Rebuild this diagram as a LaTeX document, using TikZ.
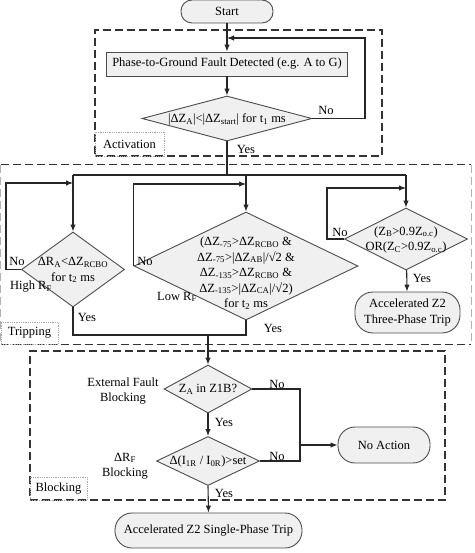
\documentclass[tikz,border=0pt]{standalone}
\usepackage{fontspec}
\setmainfont{Liberation Serif}
\usetikzlibrary{arrows.meta,shapes.geometric}
\newcommand\sbs[1]{\textsubscript{#1}}
\newcommand\dtext[2][-0.3em]{\smash{\makebox[0pt]{\raisebox{#1}{\begin{tabular}{@{}c@{}}#2\end{tabular}}}}}
\begin{document}
\begin{tikzpicture}[x=1pt,y=-1pt,
  font=\fontsize{12.5}{15.5}\selectfont,
  line/.style={draw=black!85, line width=1.1pt},
  arr/.style={line, -{Latex[length=7pt,width=5.5pt]}},
  box/.style={draw=black!70, fill=black!6, line width=0.9pt, inner sep=0pt},
  dia/.style={box, diamond, inner sep=0pt},
  pill/.style={box, rounded corners=16pt},
  group/.style={draw=black!80, dash pattern=on 8pt off 4pt, line width=1.2pt, inner sep=0pt},
  tagbox/.style={draw=black!35, densely dotted, line width=0.8pt, inner sep=0pt},
  lbl/.style={inner sep=0pt, align=center}
]
\useasboundingbox (0,0) rectangle (474,553);

% group frames
\node[group, minimum width=287pt, minimum height=126pt] (act) at (238.5,93) {};
\node[draw=none, inner sep=0pt, minimum width=470pt, minimum height=179pt] (trip) at (236,254.5) {};
\draw[group] (trip.north west) -- (trip.north east);
\draw[group] (trip.south west) -- (trip.south east);
\draw[group, draw=black!30] (trip.north west) -- (trip.south west);
\draw[group, draw=black!30] (trip.north east) -- (trip.south east);
\node[group, minimum width=415pt, minimum height=149pt] (blk) at (237.5,425.5) {};

\node[tagbox, minimum width=69pt, minimum height=24pt] (acttag) at (129.5,144) {Activation};
\node[tagbox, minimum width=57pt, minimum height=22pt] (triptag) at (29.5,333) {Tripping};
\node[tagbox, minimum width=57pt, minimum height=23pt] (blktag) at (58.5,488.5) {Blocking};

% nodes
\node[pill, rounded corners=11pt, minimum width=92pt, minimum height=23pt] (start) at (227,11.5) {Start};
\node[box, minimum width=241pt, minimum height=24pt] (pg) at (227,64) {Phase-to-Ground Fault Detected (e.g. A to G)};
\node[dia, minimum width=170pt, minimum height=45pt] (d1) at (227,118.5)
  {\dtext{|ΔZ\sbs{A}|<|ΔZ\sbs{start}| for t\sbs{1} ms}};
\node[dia, minimum width=103pt, minimum height=75pt] (d2) at (73,269.5)
  {\dtext{ΔR\sbs{A}<ΔZ\sbs{RCBO}\\for t\sbs{2} ms}};
\node[dia, minimum width=224pt, minimum height=108pt] (d3) at (246,266)
  {\dtext[-10.5pt]{(ΔZ\sbs{-75}>ΔZ\sbs{RCBO} \&\\ΔZ\sbs{-75}>|ΔZ\sbs{AB}|/√2 \&\\ΔZ\sbs{-135}>ΔZ\sbs{RCBO} \&\\ΔZ\sbs{-135}>|ΔZ\sbs{CA}|/√2)\\for t\sbs{2} ms}};
\node[dia, minimum width=123pt, minimum height=62pt] (d4) at (406,239)
  {\dtext{(Z\sbs{B}>0.9Z\sbs{o.c})\\OR(Z\sbs{C}>0.9Z\sbs{o.c})}};
\node[pill, rounded corners=18pt, minimum width=105pt, minimum height=41pt, align=center] (tp3) at (407.5,312.5)
  {Accelerated Z2\\Three-Phase Trip};
\node[dia, minimum width=88pt, minimum height=48pt] (d5) at (208,389)
  {\dtext{Z\sbs{A} in Z1B?}};
\node[dia, minimum width=103pt, minimum height=49pt] (d6) at (208,461)
  {\dtext{Δ(I\sbs{1R} / I\sbs{0R})>set}};
\node[pill, rounded corners=17pt, minimum width=92pt, minimum height=36pt] (noact) at (384,445) {No Action};
\node[pill, rounded corners=17pt, minimum width=187pt, minimum height=35pt] (final) at (208.5,530.5)
  {Accelerated Z2 Single-Phase Trip};

% coordinates
\coordinate (l1) at (227,38);
\coordinate (k1) at (365,38);
\coordinate (j1) at (227,175);
\coordinate (j2) at (73,175);
\coordinate (j3) at (246,175);
\coordinate (j4) at (406,175);
\coordinate (k2) at (6,183);
\coordinate (l2) at (73,183);
\coordinate (l3) at (246,184);
\coordinate (k4) at (327,188);
\coordinate (l4) at (406,188);
\coordinate (m1) at (73,335);
\coordinate (m2) at (246,335);
\coordinate (m3) at (208,335);
\coordinate (n1) at (300,389);
\coordinate (n2) at (300,461);
\coordinate (n3) at (300,445);

% connectors
\draw[arr] (start) -- (pg);
\draw[arr] (pg) -- (d1);
\draw[arr] (d1.east) -| (k1) -- (l1);
\draw[line] (d1.south) -- (j1);
\draw[line] (j2) -- (j4);
\draw[arr] (j2) -- (d2.north);
\draw[arr] (j3) -- (d3.north);
\draw[arr] (j4) -- (d4.north);
\draw[arr] (d2.west) -| (k2) -- (l2);
\draw[arr] (d3.west) |- (l3);
\draw[arr] (d4.west) -| (k4) -- (l4);
\draw[arr] (d4) -- (tp3);
\draw[line] (d2.south) -- (m1) -- (m2) -- (d3.south);
\draw[arr] (m3) -- (d5.north);
\draw[line] (d5.east) -- (n1) -- (n2) -- (d6.east);
\draw[arr] (n3) -- (noact.west);
\draw[arr] (d5.south) -- (d6.north);
\draw[arr] (d6.south) -- (final.north);

% labels
\node[lbl] (t1) at (326,110) {No};
\node[lbl] (t2) at (246,149) {Yes};
\node[lbl] (t3) at (17,261) {No};
\node[lbl] (t4) at (31,287) {High R\sbs{F}};
\node[lbl] (t5) at (87,317) {Yes};
\node[lbl] (t6) at (145,261) {No};
\node[lbl] (t7) at (177,297) {Low R\sbs{F}};
\node[lbl] (t8) at (273,328) {Yes};
\node[lbl] (t9) at (340,232) {No};
\node[lbl] (t10) at (422,278) {Yes};
\node[lbl] (t11) at (123,391) {External Fault\\Blocking};
\node[lbl] (t12) at (277,384) {No};
\node[lbl] (t13) at (224,422) {Yes};
\node[lbl] (t14) at (125,466) {ΔR\sbs{F}\\Blocking};
\node[lbl] (t15) at (277,456) {No};
\node[lbl] (t16) at (224,493) {Yes};
\end{tikzpicture}
\end{document}
